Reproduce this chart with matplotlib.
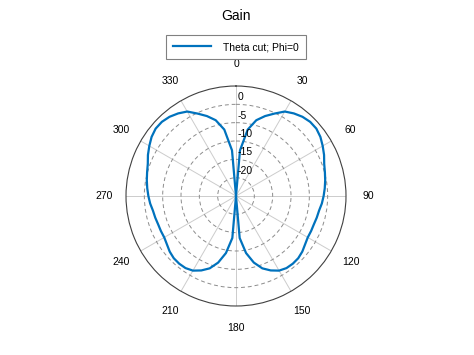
import numpy as np
import matplotlib
matplotlib.use("Agg")
import matplotlib.pyplot as plt
from matplotlib.transforms import offset_copy

plt.rcParams['font.family'] = ['Liberation Sans', 'DejaVu Sans']

# Theta cut at Phi=0, gain in dB every 5 degrees (0..360)
theta_deg = np.arange(0, 361, 5)
gain_right = [-25, -12.5, -6.6, -3.6, -1.8, -0.2, 1.6, 2.5, 3.2, 3.6, 3.6, 3.1,
              2.3, 1.5, 0.6, 0.1, -0.3, -0.7, -1.1, -1.5, -2.0, -2.2, -2.4, -2.4,
              -2.4, -2.0, -1.4, -1.0, -0.9, -1.0, -1.5, -2.6, -4.0, -6.2, -9.2,
              -13.5, -25]
gain_left = [-13.5, -9.2, -6.2, -4.0, -2.6, -1.5, -1.0, -0.9, -1.0, -1.4, -2.0,
             -2.4, -2.4, -2.4, -2.2, -2.0, -1.5, -1.1, -0.7, -0.3, 0.1, 0.6, 1.5,
             2.3, 3.1, 3.6, 3.6, 3.2, 2.5, 1.6, -0.2, -1.8, -3.6, -6.6, -12.5, -25]
gain_db = np.array(gain_right + gain_left)

r_ticks = [-20, -15, -10, -5, 0]
r_labels = ['-20', '-15', '-10', '-5', '0']
theta_ticks = list(range(0, 360, 30))
theta_labels = [str(t) for t in theta_ticks]

fig = plt.figure(figsize=(4.74, 3.55), dpi=100)
ax = fig.add_axes([126 / 474, 49 / 355, 220 / 474, 220 / 355], projection='polar')
ax.set_theta_zero_location('N')
ax.set_theta_direction(-1)

line, = ax.plot(np.deg2rad(theta_deg), gain_db, color='#0072BD', lw=1.6,
                label='Theta cut; Phi=0', zorder=3)
ax.set_ylim(-25, 5)

ax.set_xticks(np.deg2rad(theta_ticks))
ax.set_xticklabels(theta_labels, fontsize=7.5)
ax.tick_params(axis='x', pad=5.5, colors='black')
ax.set_yticks(r_ticks)
ax.set_yticklabels([])
ax.tick_params(axis='y', length=0)

ax.xaxis.grid(True, color='#cccccc', lw=0.7, ls='-')
ax.yaxis.grid(True, color='#8c8c8c', lw=0.7, ls=(0, (4, 3)))
ax.spines['polar'].set_color('#404040')
ax.spines['polar'].set_linewidth(0.8)

# radial labels just right of the 0 spoke
lab_tr = offset_copy(ax.transData, fig=fig, x=2, y=7, units='dots')
for r, s in zip(r_ticks, r_labels):
    ax.text(0, r, s, transform=lab_tr, fontsize=7.5, ha='left', va='center', zorder=4)

fig.text(236 / 474, 1 - 16 / 355, 'Gain', fontsize=10, ha='center', va='center')

leg = fig.legend(handles=[line], loc='center', bbox_to_anchor=(236 / 474, 1 - 47 / 355),
                 fontsize=7.5, frameon=True, fancybox=False, framealpha=1,
                 edgecolor='#808080', borderpad=0.7, handlelength=3.6,
                 handletextpad=1.2)
leg.get_frame().set_linewidth(0.8)

fig.savefig('out.png', dpi=100)
